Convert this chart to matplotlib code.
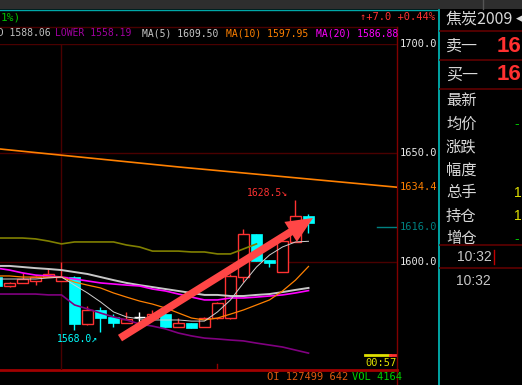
#!/usr/bin/env python3

import matplotlib
matplotlib.use("Agg")
import matplotlib.pyplot as plt
import numpy as np

W, H = 522, 385

# candles (one per bar, index 0..24)
OPEN = [1593.0, 1589.0, 1590.5, 1591.5, 1593.0, 1591.5, 1593.0, 1571.5, 1578.0, 1575.0, 1572.0, 1575.0, 1574.5,
        1576.0, 1570.0, 1572.0, 1570.0, 1574.5, 1574.5, 1593.0, 1613.0, 1601.0, 1595.5, 1609.0, 1621.0]
HIGH = [1593.5, 1591.0, 1595.0, 1593.5, 1597.0, 1600.0, 1593.5, 1580.0, 1579.5, 1576.0, 1577.0, 1577.0, 1578.0,
        1577.0, 1574.5, 1572.0, 1575.0, 1581.5, 1594.5, 1615.0, 1613.0, 1601.0, 1610.0, 1628.5, 1622.0]
LOW = [1588.5, 1588.5, 1590.5, 1589.5, 1593.0, 1591.5, 1569.0, 1571.0, 1568.0, 1570.0, 1572.0, 1572.5, 1574.5,
       1570.0, 1570.0, 1569.5, 1570.0, 1574.0, 1574.0, 1591.0, 1600.5, 1597.5, 1595.5, 1609.0, 1613.5]
CLOSE = [1589.0, 1590.5, 1592.0, 1593.0, 1594.5, 1593.0, 1571.5, 1578.0, 1574.5, 1572.0, 1574.0, 1575.0, 1576.0,
         1570.0, 1572.0, 1569.5, 1574.5, 1581.0, 1593.5, 1613.0, 1600.5, 1599.5, 1609.5, 1621.0, 1618.0]

# indicator lines
UPPER = [1611.0, 1611.0, 1611.0, 1610.6, 1609.6, 1608.3, 1609.2, 1609.2, 1609.2, 1609.2, 1607.8, 1606.9, 1605.0,
         1605.0, 1605.0, 1604.6, 1604.6, 1603.7, 1603.7, 1606.0, 1608.3]
MID = [1598.2, 1598.2, 1597.7, 1597.2, 1596.8, 1596.3, 1595.4, 1594.5, 1593.1, 1591.7, 1590.4, 1589.4, 1588.5,
       1587.6, 1586.7, 1585.8, 1584.9, 1584.9, 1584.4, 1584.4, 1584.9, 1585.3, 1586.2, 1587.2, 1588.1]
LOWER = [1585.3, 1585.3, 1585.3, 1585.3, 1584.9, 1584.9, 1580.3, 1578.5, 1576.6, 1574.8, 1573.4, 1571.6, 1570.6,
         1569.3, 1567.4, 1566.1, 1565.1, 1564.7, 1564.2, 1563.8, 1562.8, 1561.9, 1561.0, 1559.6, 1558.2]
MA5 = [1592.2, 1592.2, 1592.2, 1592.2, 1592.7, 1593.1, 1589.4, 1585.8, 1581.7, 1577.1, 1574.8, 1573.9, 1573.4,
       1573.4, 1573.4, 1572.9, 1572.9, 1577.1, 1582.6, 1590.4, 1597.7, 1603.2, 1606.9, 1609.2, 1609.5]
MA10 = [1593.6, 1593.6, 1593.1, 1593.1, 1593.1, 1593.1, 1590.8, 1589.4, 1588.1, 1585.8, 1583.9, 1582.1, 1580.7,
        1578.9, 1576.6, 1574.3, 1573.4, 1574.3, 1576.1, 1578.0, 1580.3, 1582.6, 1586.7, 1591.7, 1597.95]
MA20 = [1597.2, 1596.3, 1595.0, 1594.0, 1593.6, 1593.1, 1592.2, 1591.3, 1590.4, 1589.9, 1589.4, 1589.0, 1587.6,
        1586.7, 1585.3, 1583.9, 1582.6, 1582.6, 1583.5, 1583.5, 1583.9, 1584.4, 1584.9, 1585.8, 1586.88]
LONG_X = [0, 14, 31]
LONG_Y = [1652.0, 1643.6, 1634.2]

PRICE_TICKS = [1700.0, 1650.0, 1600.0]
HEADER = [("MID 1588.06", "#c0c0c0"), ("LOWER 1558.19", "#a000a0"), ("MA(5) 1609.50", "#c8c8c8"),
          ("MA(10) 1597.95", "#ff8000"), ("MA(20) 1586.88", "#ff00ff")]
HEADER_X = [-14, 55, 142, 226, 316]
LAST_PRICE = 1616.0
LONG_LAST = 1634.4
HIGH_MARK = (23, 1628.5)
LOW_MARK = (8, 1568.0)
TREND_FROM = (9.5, 1565.1)
TREND_TO = (24.35, 1620.2)

PANEL_LABELS = ["最新", "均价", "涨跌", "幅度", "总手", "持仓", "增仓"]
PANEL_VALUES = ["", "-", "", "", "1", "1", "-"]
PANEL_COLORS = ["#d0d0d0", "#00c000", "#d0d0d0", "#d0d0d0", "#e0e000", "#e0e000", "#00c000"]

MONO = "DejaVu Sans Mono"
CJK = ["Noto Sans CJK SC", "DejaVu Sans"]
RED = "#ff3232"
CYAN = "#00ffff"
GRID = "#4a0000"


def main() -> None:
    fig = plt.figure(figsize=(W / 100, H / 100), dpi=100, facecolor="black")

    # overlay in pixel coordinates for the frame and the side panel
    ov = fig.add_axes([0, 0, 1, 1])
    ov.set_xlim(0, W)
    ov.set_ylim(H, 0)
    ov.set_facecolor("black")
    ov.axis("off")

    ov.fill_between([0, W], 0, 9, color="#2e2e2e", lw=0)
    ov.plot([0, 437], [9.5, 9.5], color="#00a8a8", lw=1)
    ov.plot([483, 483], [0, 9], color="#555555", lw=1)
    ov.plot([0, 397], [27, 27], color=GRID, lw=1)
    ov.plot([397, 397], [27, H], color="#800000", lw=1)
    ov.plot([438.5, 438.5], [9.5, H], color="#00c0c0", lw=1.2)
    ov.plot([0, 397], [370, 370], color="#a00000", lw=2)
    for yy in [31, 60, 89, 245, 268]:
        ov.plot([440, W], [yy, yy], color="#600000", lw=1.2)

    ov.text(1, 17, "1%)", color="#00c000", fontsize=8, family=MONO, va="center")
    ov.text(360, 17, "↑+7.0 +0.44%", color=RED, fontsize=7.5, family=MONO, va="center")
    for (txt, col), x in zip(HEADER, HEADER_X):
        ov.text(x, 33.5, txt, color=col, fontsize=7, family=MONO, va="center")

    # side panel
    ov.text(446, 19, "焦炭2009", color="#d8d8d8", fontsize=11.5, family=CJK, va="center")
    ov.text(516, 19, "◂", color="#d8d8d8", fontsize=9, family=CJK, va="center")
    for yy, lab in [(46, "卖一"), (75, "买一")]:
        ov.text(446, yy, lab, color="#d8d8d8", fontsize=11.5, family=CJK, va="center")
        ov.text(497, yy, "16", color="#ff3030", fontsize=16, weight="bold",
                family="Liberation Sans", va="center")
    for k, (lab, val, col) in enumerate(zip(PANEL_LABELS, PANEL_VALUES, PANEL_COLORS)):
        yy = 101 + 23 * k
        ov.text(446, yy, lab, color="#d8d8d8", fontsize=11, family=CJK, va="center")
        if val:
            ov.text(514, yy, val, color=col, fontsize=10, family="Liberation Sans", va="center")
    ov.text(457, 257, "10:32", color="#c8c8c8", fontsize=10, family="Liberation Sans", va="center")
    ov.plot([494, 494], [250, 264], color="#c00000", lw=1)
    ov.text(456, 281, "10:32", color="#c8c8c8", fontsize=10, family="Liberation Sans", va="center")

    # bottom status
    ov.plot([365, 390], [355, 355], color="#e0e000", lw=2)
    ov.plot([390, 395], [355, 355], color="#ff3030", lw=2)
    ov.text(365, 362.5, "00:57", color="#e0e000", fontsize=7.5, family=MONO, va="center")
    ov.text(267, 377, "OI 127499 642", color="#e05a10", fontsize=7.5, family=MONO, va="center")
    ov.text(352, 377, "VOL 4164", color="#00d000", fontsize=7.5, family=MONO, va="center")

    # price chart
    ax = fig.add_axes([0, (H - 370) / H, 397 / W, 326 / H])
    ax.set_facecolor("none")
    ax.set_xlim(0.2692, 30.808)
    ax.set_ylim(1550.46, 1700.0)
    ax.axis("off")

    for p in PRICE_TICKS:
        ax.axhline(p, color=GRID, lw=1, zorder=1)
    ax.axvline(5, color=GRID, lw=1, zorder=1)
    ax.plot([17, 17], [1550.46, 1553.2], color="#900000", lw=1, zorder=1)

    idx = np.arange(len(OPEN))
    o, h, l, c = map(np.array, (OPEN, HIGH, LOW, CLOSE))
    up = c > o
    down = c < o
    flat = c == o

    ax.vlines(idx[up], l[up], h[up], color=RED, lw=1, zorder=2)
    ax.vlines(idx[down], l[down], h[down], color=CYAN, lw=1, zorder=2)
    ax.vlines(idx[flat], l[flat], h[flat], color="white", lw=1, zorder=2)
    ax.bar(idx[up], (c - o)[up], bottom=o[up], width=0.8, facecolor="black", edgecolor=RED, lw=1, zorder=3)
    ax.bar(idx[down], (o - c)[down], bottom=c[down], width=0.8, facecolor=CYAN, edgecolor=CYAN, lw=0.5, zorder=3)
    ax.hlines(c[flat], idx[flat] - 0.4, idx[flat] + 0.4, color="white", lw=1, zorder=3)

    ax.plot(LONG_X, LONG_Y, color="#ff8000", lw=1.2, zorder=4)
    ax.plot(np.arange(len(UPPER)), UPPER, color="#808000", lw=1.2, zorder=4)
    ax.plot(idx, MID, color="#c8c8c8", lw=1.4, zorder=4)
    ax.plot(idx, LOWER, color="#800080", lw=1.2, zorder=4)
    ax.plot(idx, MA20, color="#ff00ff", lw=1.2, zorder=4)
    ax.plot(idx, MA10, color="#ff8000", lw=0.9, zorder=4)
    ax.plot(idx, MA5, color="#d0d0d0", lw=0.7, zorder=4)

    ax.annotate("", xy=TREND_TO, xytext=TREND_FROM, zorder=6,
                arrowprops=dict(arrowstyle="simple,head_length=1.9,head_width=1.7,tail_width=0.55",
                                color="#ff4646", shrinkA=0, shrinkB=0, lw=0))

    ax.text(HIGH_MARK[0] - 0.6, HIGH_MARK[1] + 3, f"{HIGH_MARK[1]:.1f}↘", color=RED, fontsize=7,
            family=MONO, ha="right", va="center", zorder=5)
    ax.text(LOW_MARK[0] - 0.2, LOW_MARK[1] - 3, f"{LOW_MARK[1]:.1f}↗", color=CYAN, fontsize=7,
            family=MONO, ha="right", va="center", zorder=5)

    # price labels on the right
    yt = ax.get_yaxis_transform()
    for p in PRICE_TICKS:
        ax.text(1.008, p, f"{p:.1f}", transform=yt, color="#e8e8e8", fontsize=7.5, family=MONO,
                va="center", clip_on=False)
    ax.text(1.008, LONG_LAST, f"{LONG_LAST:.1f}", transform=yt, color="#ff8000", fontsize=7.5,
            family=MONO, va="center", clip_on=False)
    ax.text(1.008, LAST_PRICE, f"{LAST_PRICE:.1f}", transform=yt, color="#008080", fontsize=7.5,
            family=MONO, va="center", clip_on=False)
    ax.plot([29.3, 30.808], [LAST_PRICE, LAST_PRICE], color="#008080", lw=1, zorder=1)

    fig.savefig("out.png", dpi=100, facecolor="black")
    plt.close(fig)


if __name__ == "__main__":
    main()
